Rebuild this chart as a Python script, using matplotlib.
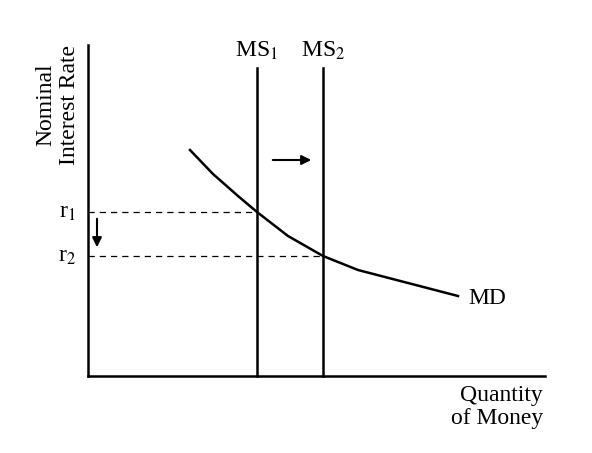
import matplotlib
matplotlib.use("Agg")
import matplotlib.pyplot as plt

plt.rcParams['font.family'] = ['Liberation Serif', 'DejaVu Serif']
plt.rcParams['mathtext.fontset'] = 'stix'

# values in axis units (origin at the corner of the axes)
ms_levels = [169, 235]
ms_labels = ['MS$_1$', 'MS$_2$']
rates = [164, 120]
rate_labels = ['r$_1$', 'r$_2$']
md_x = [102, 125, 150, 169, 200, 235, 270, 320, 370]
md_y = [226, 202, 180, 164, 140, 120, 106, 93, 80]

W, H = 592, 453
fig = plt.figure(figsize=(W / 100, H / 100), dpi=100)
ax = fig.add_axes([88 / W, (H - 376) / H, 457 / W, 331 / H])
ax.set_xlim(0, 457)
ax.set_ylim(0, 331)
for s in ['top', 'right']:
    ax.spines[s].set_visible(False)
for s in ['left', 'bottom']:
    ax.spines[s].set_linewidth(1.8)
ax.set_xticks([])
ax.set_yticks([])

for x, lab in zip(ms_levels, ms_labels):
    ax.plot([x, x], [0, 308], color='black', lw=1.8, clip_on=False)
    ax.text(x, 314, lab, ha='center', va='bottom', fontsize=17, clip_on=False)

ax.plot(md_x, md_y, color='black', lw=1.8)
ax.text(380, 77, 'MD', ha='left', va='center', fontsize=17)

for x, r, lab in zip(ms_levels, rates, rate_labels):
    ax.plot([0, x], [r, r], color='black', lw=0.9, ls=(0, (5, 4)))
    ax.text(-12, r, lab, ha='right', va='center', fontsize=17, clip_on=False)

ax.annotate('', xy=(226, 216), xytext=(182, 216),
            arrowprops=dict(arrowstyle='-|>', color='black', lw=1.5, mutation_scale=14))
ax.annotate('', xy=(9, 126), xytext=(9, 160),
            arrowprops=dict(arrowstyle='-|>', color='black', lw=1.5, mutation_scale=14))

fig.text(58 / W, 1 - 105 / H, 'Nominal\nInterest Rate', rotation=90, ha='center',
         va='center', fontsize=17, linespacing=1.15)
fig.text(543 / W, 1 - 407 / H, 'Quantity\nof Money', ha='right', va='center',
         fontsize=17, linespacing=1.15)

fig.savefig('out.png', dpi=100, facecolor='white')
